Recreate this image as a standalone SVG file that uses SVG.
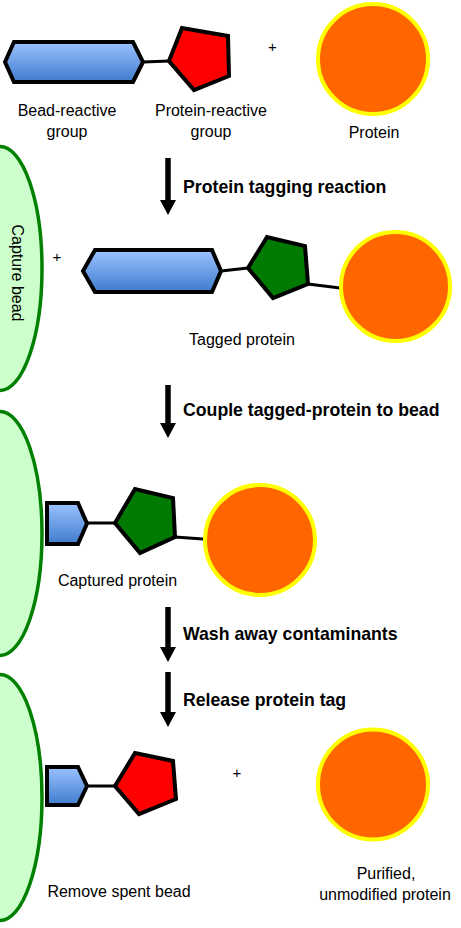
<svg xmlns="http://www.w3.org/2000/svg" width="461" height="928" viewBox="0 0 461 928">
<defs>
<linearGradient id="blue" x1="0" y1="0" x2="0" y2="1">
<stop offset="0" stop-color="#9CC2FF"/>
<stop offset="1" stop-color="#3F7BCD"/>
</linearGradient>
</defs>
<style>
.bead{fill:#CCFFCC;stroke:#008000;stroke-width:3.5}
.hex{fill:url(#blue);stroke:#000;stroke-width:4;stroke-linejoin:miter}
.red{fill:#FF0000;stroke:#000;stroke-width:4;stroke-linejoin:miter}
.green{fill:#007A00;stroke:#000;stroke-width:4;stroke-linejoin:miter}
.prot{fill:#FF6600;stroke:#FFFF00;stroke-width:4}
.link{stroke:#000;stroke-width:3;fill:none}
.lbl{font-family:"Liberation Sans",Arial,sans-serif;font-size:16px;fill:#000;text-anchor:middle}
.step{font-family:"Liberation Sans",Arial,sans-serif;font-size:17.7px;font-weight:bold;fill:#000}
.plus{font-family:"Liberation Sans",Arial,sans-serif;font-size:15px;fill:#000;text-anchor:middle}
.shaft{stroke:#000;stroke-width:5.5}
</style>

<g id="beads">
<ellipse class="bead" cx="0" cy="268.5" rx="42" ry="122"/>
<ellipse class="bead" cx="0" cy="533.5" rx="42" ry="122"/>
<ellipse class="bead" cx="0" cy="797.5" rx="42" ry="123"/>
<text class="lbl" transform="translate(17,273) rotate(90)" dy="5.5">Capture bead</text>
</g>

<g id="connectors">
<line class="link" x1="143" y1="62" x2="169" y2="61"/>
<line class="link" x1="221" y1="271" x2="248" y2="268"/>
<line class="link" x1="308" y1="284" x2="340" y2="288"/>
<line class="link" x1="87" y1="523" x2="115" y2="523"/>
<line class="link" x1="175" y1="537" x2="203" y2="539"/>
<line class="link" x1="87" y1="786" x2="115" y2="786"/>
<line class="shaft" x1="168" y1="158" x2="168" y2="202"/>
<polygon points="160,200 176,200 168,215"/>
<line class="shaft" x1="168" y1="385" x2="168" y2="425"/>
<polygon points="160,423 176,423 168,438"/>
<line class="shaft" x1="168" y1="607" x2="168" y2="649"/>
<polygon points="160,647 176,647 168,662"/>
<line class="shaft" x1="168" y1="672" x2="168" y2="714"/>
<polygon points="160,712 176,712 168,727"/>
</g>

<g id="bead-reactive-group">
<polygon class="hex" points="5,62 14,42 133,42 143,62 133,82 14,82"/>
<text class="lbl" x="67" y="116">Bead-reactive</text>
<text class="lbl" x="67" y="137">group</text>
</g>
<g id="protein-reactive-group">
<polygon class="red" points="169,61 182,28 228,36 229,76 194,90"/>
<text class="lbl" x="211" y="116">Protein-reactive</text>
<text class="lbl" x="211" y="137">group</text>
</g>
<g id="plus1"><text class="plus" x="272.5" y="52">+</text></g>
<g id="protein">
<circle class="prot" cx="373" cy="59" r="55"/>
<text class="lbl" x="374" y="138">Protein</text>
</g>

<g id="step1"><text class="step" x="183" y="193">Protein tagging reaction</text></g>

<g id="plus2"><text class="plus" x="57" y="262">+</text></g>
<g id="tagged-protein">
<polygon class="hex" points="83,271 95,250 212,250 221,271 212,292 95,292"/>
<polygon class="green" points="248,268 267,237 305,246 308,284 273,298"/>
<circle class="prot" cx="395.5" cy="286.5" r="54.5"/>
<text class="lbl" x="242" y="345">Tagged protein</text>
</g>

<g id="step2"><text class="step" x="183" y="416">Couple tagged-protein to bead</text></g>

<g id="captured-protein">
<polygon class="hex" points="47,503 78,503 87,523.5 78,544 47,544"/>
<polygon class="green" points="115,523 135,489 173,498 175,537 140,553"/>
<circle class="prot" cx="260" cy="540" r="55"/>
<text class="lbl" x="117.5" y="586">Captured protein</text>
</g>

<g id="step3"><text class="step" x="183" y="640">Wash away contaminants</text></g>
<g id="step4"><text class="step" x="183" y="706">Release protein tag</text></g>

<g id="spent-bead">
<polygon class="hex" points="47,767 78,767 87,786 78,805 47,805"/>
<polygon class="red" points="115,786 135,753 173,761 176,799 139,814"/>
<text class="lbl" x="119" y="897">Remove spent bead</text>
</g>
<g id="plus3"><text class="plus" x="237" y="778">+</text></g>
<g id="purified-protein">
<circle class="prot" cx="373" cy="784.5" r="55"/>
<text class="lbl" x="386" y="879">Purified,</text>
<text class="lbl" x="385" y="900">unmodified protein</text>
</g>
</svg>
